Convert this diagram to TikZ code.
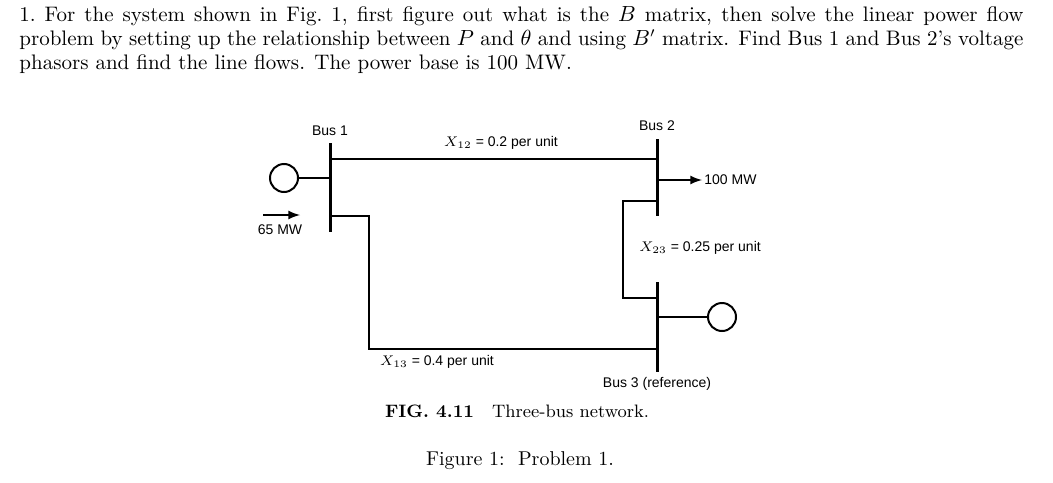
\documentclass[tikz,border=0pt]{standalone}
\usepackage{fontspec}
\newfontfamily\dia{Liberation Sans}
\begin{document}
\begin{tikzpicture}[x=0.5pt,y=-0.5pt,
  bus/.style={line width=1.5pt},
  ln/.style={line width=1pt},
  lbl/.style={font=\dia\fontsize{7}{8}\selectfont, inner sep=0pt},
  gen/.style={circle,draw,line width=1pt,minimum size=14pt,inner sep=0pt}]
\useasboundingbox (0,0) rectangle (1053,482);
\node[anchor=north west,text width=502pt,inner sep=0pt,align=justify,font=\fontsize{10.5}{12}\selectfont] (hdr) at (19,6)
 {1.\ For the system shown in Fig.\ 1, first figure out what is the $B$ matrix, then solve the linear power flow problem by setting up the relationship between $P$ and $\theta$ and using $B'$ matrix. Find Bus 1 and Bus 2's voltage phasors and find the line flows. The power base is 100 MW.};
% buses
\coordinate (b1t) at (330,143); \coordinate (b1b) at (330,232);
\coordinate (b2t) at (657,139); \coordinate (b2b) at (657,216);
\coordinate (b3t) at (657,282); \coordinate (b3b) at (657,372);
\draw[bus] (b1t) -- (b1b);
\draw[bus] (b2t) -- (b2b);
\draw[bus] (b3t) -- (b3b);
% lines
\draw[ln] (330,159) -- (657,159);
\draw[ln] (330,216) -- (369,216) -- (369,349) -- (657,349);
\draw[ln] (657,201) -- (623,201) -- (623,298) -- (657,298);
% generators
\node[gen] (g1) at (284,178) {};
\draw[ln] (g1.east) -- (330,178);
\node[gen] (g3) at (722,317) {};
\draw[ln] (657,317) -- (g3.west);
% arrows
\draw[ln,-latex] (657,180) -- (702,180);
\node[lbl,anchor=west] (l100) at (704,180) {100 MW};
\draw[ln,-latex] (263,215) -- (300,215);
\node[lbl] (l65) at (280,230) {65 MW};
% labels
\node[lbl] (n1) at (330,131) {Bus 1};
\node[lbl] (n2) at (657,126) {Bus 2};
\node[lbl] (n3) at (657,384) {Bus 3 (reference)};
\node[lbl] (x12) at (501,143) {$X_{12}$ = 0.2 per unit};
\node[lbl] (x23) at (700,248) {$X_{23}$ = 0.25 per unit};
\node[lbl] (x13) at (437,362) {$X_{13}$ = 0.4 per unit};
\node[inner sep=0pt,font=\small] (cap) at (517,411) {\textbf{FIG. 4.11}\quad Three-bus network.};
\node[inner sep=0pt] (fig) at (520,461) {Figure 1:\ \ Problem 1.};
\end{tikzpicture}
\end{document}
